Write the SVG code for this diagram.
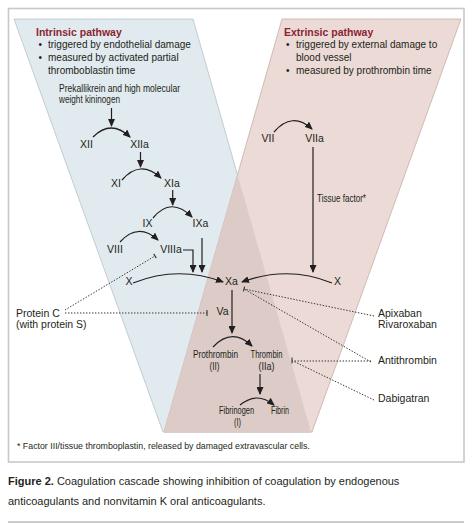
<svg xmlns="http://www.w3.org/2000/svg" width="474" height="523" viewBox="0 0 474 523">
<style>
  text { font-family: "Liberation Sans", Arial, sans-serif; fill: #231f20; }
  .f { font-size: 10.5px; }
  .n { font-size: 10.6px; }
  .title { font-size: 10.5px; font-weight: bold; fill: #8b2433; }
  .b { font-size: 10px; }
  .side { font-size: 10.5px; }
  .ln { fill: none; stroke: #231f20; stroke-width: 1.2; }
  .arr { marker-end: url(#ah); }
  .dot { fill: none; stroke: #333; stroke-width: 1; stroke-dasharray: 1.4 1.6; }
  .tee { fill: none; stroke: #333; stroke-width: 1.1; }
</style>
<defs>
  <marker id="ah" markerUnits="userSpaceOnUse" markerWidth="8" markerHeight="7" refX="7" refY="3.5" orient="auto">
    <path d="M0,0 L8,3.5 L0,7 z" fill="#231f20"/>
  </marker>
</defs>
<rect x="0" y="0" width="474" height="523" fill="#ffffff"/>
<rect x="8.5" y="8.5" width="455.5" height="453.5" fill="#ffffff" stroke="#c8c8c8" stroke-width="1.6"/>

<g id="background">
  <polygon points="14,19 193,19 311,432 163,432" fill="#e1eaee" stroke="#b8c1c7" stroke-width="0.8"/>
  <polygon points="282,19 461,19 312,432 164,432" fill="#ebdad5" stroke="#c8aea7" stroke-width="0.8"/>
  <polygon points="237.5,174.8 311,432 164,432" fill="#dccbc7"/>
</g>

<g id="intrinsic-header">
  <text class="title" x="36" y="36">Intrinsic pathway</text>
  <text class="b" x="38.5" y="48">•</text>
  <text class="b" x="48" y="48">triggered by endothelial damage</text>
  <text class="b" x="38.5" y="61">•</text>
  <text class="b" x="48" y="61">measured by activated partial</text>
  <text class="b" x="48" y="74">thromboblastin time</text>
</g>
<g id="extrinsic-header">
  <text class="title" x="284" y="36">Extrinsic pathway</text>
  <text class="b" x="286" y="48">•</text>
  <text class="b" x="296" y="48">triggered by external damage to</text>
  <text class="b" x="296" y="61">blood vessel</text>
  <text class="b" x="286" y="74">•</text>
  <text class="b" x="296" y="74">measured by prothrombin time</text>
</g>

<g id="prekallikrein"><text class="n" x="59" y="92" textLength="121" lengthAdjust="spacingAndGlyphs">Prekallikrein and high molecular</text><text class="n" x="59" y="102.5" textLength="61" lengthAdjust="spacingAndGlyphs">weight kininogen</text></g>
<g id="XII"><text class="f" x="86.5" y="148" text-anchor="middle">XII</text></g>
<g id="XIIa"><text class="f" x="139.5" y="148" text-anchor="middle">XIIa</text></g>
<g id="XI"><text class="f" x="116" y="187" text-anchor="middle">XI</text></g>
<g id="XIa"><text class="f" x="172" y="187" text-anchor="middle">XIa</text></g>
<g id="IX"><text class="f" x="147.5" y="227" text-anchor="middle">IX</text></g>
<g id="IXa"><text class="f" x="200.5" y="227" text-anchor="middle">IXa</text></g>
<g id="VIII"><text class="f" x="115" y="253" text-anchor="middle">VIII</text></g>
<g id="VIIIa"><text class="f" x="171" y="253" text-anchor="middle">VIIIa</text></g>
<g id="X-left"><text class="f" x="129" y="285" text-anchor="middle">X</text></g>
<g id="Xa"><text class="f" x="231.5" y="285" text-anchor="middle">Xa</text></g>
<g id="X-right"><text class="f" x="337.5" y="285" text-anchor="middle">X</text></g>
<g id="VII"><text class="f" x="268" y="142" text-anchor="middle">VII</text></g>
<g id="VIIa"><text class="f" x="314.5" y="142" text-anchor="middle">VIIa</text></g>
<g id="tissue-factor"><text class="n" x="317" y="202" textLength="49" lengthAdjust="spacingAndGlyphs">Tissue factor*</text></g>
<g id="Va"><text class="f" x="222.5" y="315" text-anchor="middle">Va</text></g>
<g id="prothrombin"><text class="n" x="193" y="358" textLength="45" lengthAdjust="spacingAndGlyphs">Prothrombin</text><text class="n" x="209.5" y="369.5" textLength="10" lengthAdjust="spacingAndGlyphs">(II)</text></g>
<g id="thrombin"><text class="n" x="250.5" y="358" textLength="32" lengthAdjust="spacingAndGlyphs">Thrombin</text><text class="n" x="258.5" y="370" textLength="16" lengthAdjust="spacingAndGlyphs">(IIa)</text></g>
<g id="fibrinogen"><text class="n" x="219" y="414" textLength="35" lengthAdjust="spacingAndGlyphs">Fibrinogen</text><text class="n" x="234" y="425.5" textLength="7" lengthAdjust="spacingAndGlyphs">(I)</text></g>
<g id="fibrin"><text class="n" x="271" y="414" textLength="18" lengthAdjust="spacingAndGlyphs">Fibrin</text></g>

<g id="protein-c"><text class="side" x="16" y="317">Protein C</text><text class="side" x="16" y="328">(with protein S)</text></g>
<g id="apixaban"><text class="side" x="378" y="317">Apixaban</text><text class="side" x="378" y="328">Rivaroxaban</text></g>
<g id="antithrombin"><text class="side" x="378" y="364">Antithrombin</text></g>
<g id="dabigatran"><text class="side" x="378" y="402">Dabigatran</text></g>

<g id="connectors">
  <path class="ln arr" d="M111.5,108 V126"/>
  <path class="ln arr" d="M93,137 Q111,119 130,137"/>
  <path class="ln arr" d="M140.5,152 V167"/>
  <path class="ln arr" d="M122,180 Q140,159 161,178"/>
  <path class="ln arr" d="M172.7,190 V205"/>
  <path class="ln arr" d="M153,218 Q171,196 192,217"/>
  <path class="ln arr" d="M120,242 Q138,222 158,240"/>
  <path class="ln arr" d="M202,238 V272"/>
  <path class="ln arr" d="M183,250 H193 V272"/>
  <path class="ln arr" d="M133,283 Q178,265 223,282"/>
  <path class="ln arr" d="M274,132 Q292,111 312,129"/>
  <path class="ln arr" d="M313,147 V272"/>
  <path class="ln arr" d="M332,283 Q288,265 242,282"/>
  <path class="ln arr" d="M232,290 V333"/>
  <path class="ln arr" d="M213,347 Q232,327 252,346"/>
  <path class="ln arr" d="M260,374 V394"/>
  <path class="ln arr" d="M240,405 Q257,391 274,405"/>

  <path class="dot" d="M65,310 L155,256"/>
  <path class="tee" d="M153.7,253.9 L156.3,258.1"/>
  <path class="dot" d="M65,313 H207"/>
  <path class="tee" d="M207,310 V316"/>
  <path class="dot" d="M374,316 L244,289"/>
  <path class="dot" d="M371,362 L244,289"/>
  <path class="tee" d="M244.6,286.6 L243.4,291.4"/>
  <path class="dot" d="M371,361 H292"/>
  <path class="dot" d="M374,400 L293,361"/>
  <path class="tee" d="M292,357.5 V363.5"/>
</g>

<g id="footnote"><text x="17" y="449" style="font-size:8.8px">* Factor III/tissue thromboplastin, released by damaged extravascular cells.</text></g>
<g id="caption">
  <text x="8" y="485" style="font-size:11px"><tspan font-weight="bold">Figure 2.</tspan>  Coagulation cascade showing inhibition of coagulation by endogenous</text>
  <text x="8" y="505" style="font-size:11px">anticoagulants and nonvitamin K oral anticoagulants.</text>
</g>
<line x1="8" y1="522" x2="464" y2="522" stroke="#9a9a9a" stroke-width="1.2"/>
</svg>
